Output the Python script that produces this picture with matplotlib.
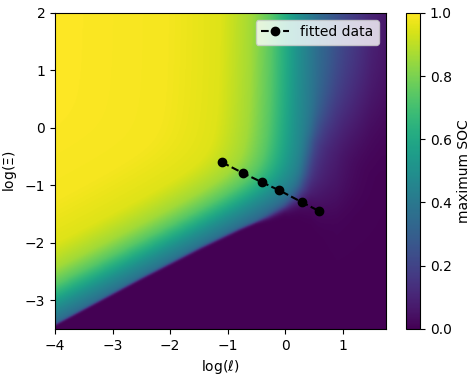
import matplotlib
matplotlib.use("Agg")
import matplotlib.pyplot as plt
import numpy as np

# fitted points
log_l = [-1.10, -0.73, -0.41, -0.10, 0.30, 0.59]
log_xi = [-0.60, -0.79, -0.945, -1.09, -1.30, -1.45]

# maximum SOC at the top of the map, along log(l)
top_x = [-4.0, -2.0, -1.1, -0.56, -0.21, 0.03, 0.26, 0.61, 1.08, 1.54, 1.75]
top_v = [1.0, 0.985, 0.95, 0.86, 0.74, 0.62, 0.50, 0.35, 0.21, 0.10, 0.07]

# lower edge of the SOC region (below it the value drops to 0)
edge_x = [-4.0, -2.53, -1.48, -0.79, -0.30, 0.0, 0.20, 0.35, 0.45, 0.53, 0.62, 0.78, 1.0, 1.4, 1.75]
edge_y = [-3.43, -2.64, -2.10, -1.77, -1.56, -1.40, -1.26, -1.08, -0.85, -0.57, -0.32, -0.12, 0.05, 0.25, 0.35]
# how soft the edge is, along log(l)
soft_x = [-4.0, -0.5, 0.0, 0.25, 0.45, 0.65, 0.9, 1.75]
soft_w = [0.012, 0.015, 0.04, 0.08, 0.14, 0.28, 0.45, 0.5]
# near the edge the top profile is shifted: log(l) equivalent = x0 - k * height above edge
x0, k, eps = 0.61, 1.25, 0.6

x = np.linspace(-4, 1.75, 460)
y = np.linspace(-3.5, 2, 440)
X, Y = np.meshgrid(x, y)

# straight part of the edge
a, b = np.polyfit(edge_x[:6], edge_y[:6], 1)
d_line = Y - (a * X + b)
xd = x0 - k * d_line
xe = (X + xd + np.sqrt((X - xd) ** 2 + eps ** 2)) / 2
F = np.interp(xe, top_x, top_v)

# signed distance to the full (bent) edge
t = np.linspace(0, 1, 1500)
seg = np.r_[0, np.cumsum(np.hypot(np.diff(edge_x), np.diff(edge_y)))]
seg = seg / seg[-1]
cx = np.interp(t, seg, edge_x)
cy = np.interp(t, seg, edge_y)
dist = np.full(X.shape, np.inf)
for px, py in zip(cx, cy):
    dist = np.minimum(dist, np.hypot(X - px, Y - py))
sd = np.where(Y >= np.interp(X, edge_x, edge_y), dist, -dist)
w = np.interp(X, soft_x, soft_w)
C = 1 / (1 + np.exp(np.clip(-sd / w, -50, 50)))
Z = F * C

fig = plt.figure(figsize=(4.74, 3.78), dpi=100)
ax = fig.add_axes([0.116, 0.130, 0.698, 0.836])
cax = fig.add_axes([0.857, 0.130, 0.029, 0.836])

im = ax.imshow(Z, extent=[-4, 1.75, -3.5, 2], origin="lower", aspect="auto",
               cmap="viridis", vmin=0, vmax=1)
ax.plot(log_l, log_xi, "k--o", markersize=6, label="fitted data")
ax.set_xlim(-4, 1.75)
ax.set_ylim(-3.5, 2)
ax.set_xlabel(r"log($\ell$)")
ax.set_ylabel(r"log($\Xi$)")
ax.legend(loc="upper right")

cb = fig.colorbar(im, cax=cax)
cb.set_label("maximum SOC")

fig.savefig("out.png", dpi=100)
